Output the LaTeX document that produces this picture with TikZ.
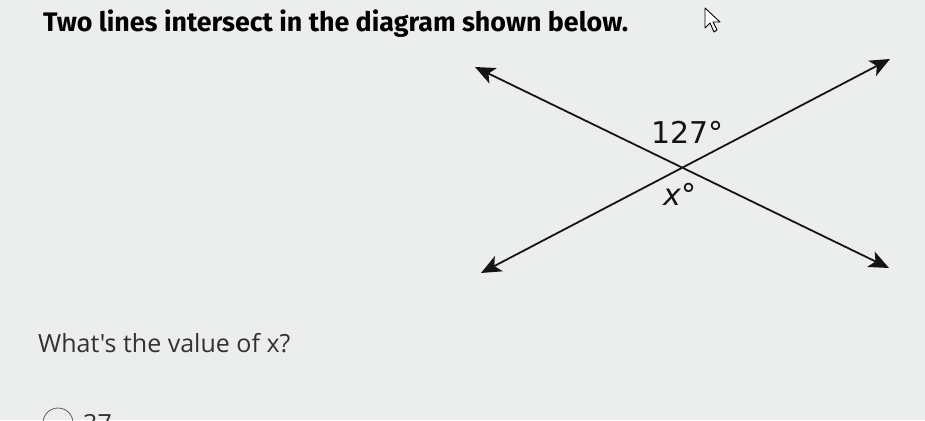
\documentclass[tikz,border=0pt]{standalone}
\usepackage{fontspec}
\setmainfont{DejaVu Sans}
\newfontfamily\titlefont{Fira Sans}
\newfontfamily\bodyfont{Open Sans}
\usetikzlibrary{arrows.meta}
\definecolor{bg}{RGB}{236,238,238}
\definecolor{ink}{RGB}{20,20,20}
\definecolor{bodytext}{RGB}{50,50,50}
\definecolor{radio}{RGB}{90,90,90}
\tikzset{
  ray/.style={line width=1.8pt, draw=ink, {Stealth[length=20pt,width=17pt,inset=5pt]}-{Stealth[length=20pt,width=17pt,inset=5pt]}},
  lbl/.style={inner sep=0pt, text=ink, font=\fontsize{30}{31}\selectfont},
  body/.style={anchor=base west, inner sep=0pt, text=bodytext, font=\bodyfont\fontsize{25}{28}\selectfont},
}
\begin{document}
\begin{tikzpicture}[x=1pt,y=-1pt]
\fill[bg] (0,0) rectangle (925,420);
\useasboundingbox (0,0) rectangle (925,420);
\clip (0,0) rectangle (925,420);
% title
\node[anchor=base west, inner sep=0pt, text=black, font=\titlefont\bfseries\fontsize{26.8}{28}\selectfont] (title) at (43,32) {Two lines intersect in the diagram shown below.};
% cursor
\draw[line width=0.9pt, fill=white, line join=round] (705,8) -- (705,28) -- (710,23) -- (714,32) -- (717,30) -- (713,22) -- (720,22) -- cycle;
% lines
\coordinate (a1) at (475,67);
\coordinate (a2) at (889,268);
\coordinate (b1) at (481,273);
\coordinate (b2) at (890,59);
\draw[ray] (a1) -- (a2);
\draw[ray] (b1) -- (b2);
\node[lbl, anchor=base west] (ang) at (651,143) {127°};
\node[lbl, anchor=base west] (xx) at (663,205) {\textit{x}°};
% question
\node[body] (q) at (38,352) {What's the value of x?};
% partial option
\draw[line width=0.8pt, draw=radio] (58,423) circle (15);
\node[body] (opt) at (83,432) {37};
\end{tikzpicture}
\end{document}
